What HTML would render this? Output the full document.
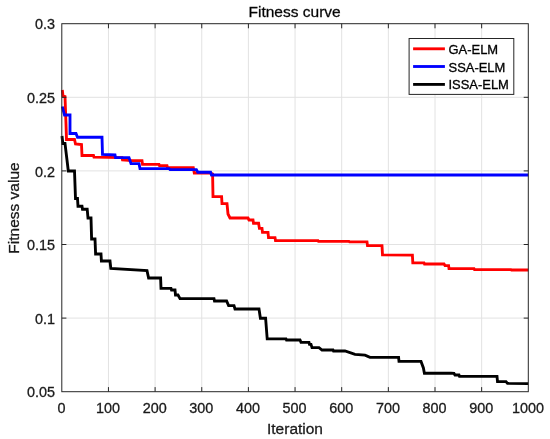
<!DOCTYPE html>
<html lang="en"><head><meta charset="utf-8"><title>Fitness curve</title>
<style>
html,body{margin:0;padding:0;background:#fff;}
body{width:550px;height:439px;overflow:hidden;}
svg{display:block;}
text{font-family:"Liberation Sans",Arial,Helvetica,sans-serif;fill:#1a1a1a;stroke:#1a1a1a;stroke-width:0.3px;}
.tk{font-size:14.4px;}
.lb{font-size:15.5px;}
.lg{font-size:12.95px;fill:#000;stroke:#000;}
</style></head><body>
<svg width="550" height="439" viewBox="0 0 550 439">
<rect x="0" y="0" width="550" height="439" fill="#ffffff"/>
<g stroke="#e2e2e2" stroke-width="1" fill="none"><line x1="108.45" y1="23.7" x2="108.45" y2="391.7"/><line x1="155.10" y1="23.7" x2="155.10" y2="391.7"/><line x1="201.75" y1="23.7" x2="201.75" y2="391.7"/><line x1="248.40" y1="23.7" x2="248.40" y2="391.7"/><line x1="295.05" y1="23.7" x2="295.05" y2="391.7"/><line x1="341.70" y1="23.7" x2="341.70" y2="391.7"/><line x1="388.35" y1="23.7" x2="388.35" y2="391.7"/><line x1="435.00" y1="23.7" x2="435.00" y2="391.7"/><line x1="481.65" y1="23.7" x2="481.65" y2="391.7"/><line x1="61.8" y1="318.10" x2="528.3" y2="318.10"/><line x1="61.8" y1="244.50" x2="528.3" y2="244.50"/><line x1="61.8" y1="170.90" x2="528.3" y2="170.90"/><line x1="61.8" y1="97.30" x2="528.3" y2="97.30"/></g>
<g fill="none" stroke-width="2.85" stroke-linejoin="miter" stroke-linecap="butt">
<polyline stroke="#ff0000" points="62.3,90.0 63.0,96.0 65.0,96.5 66.0,124.0 66.5,139.5 74.5,139.5 75.5,144.0 81.5,144.5 82.0,155.5 93.5,155.5 94.0,157.2 122.0,157.6 122.5,160.0 132.0,160.6 142.0,160.6 142.5,164.4 159.0,164.4 159.5,165.6 167.0,165.6 167.5,167.6 193.3,167.6 194.3,173.0 210.0,173.0 212.6,174.0 213.0,196.6 221.6,196.6 222.0,203.6 227.0,203.6 228.0,214.0 230.0,218.0 248.0,218.0 249.0,220.0 253.0,220.0 253.5,223.2 258.6,223.2 259.4,228.4 262.0,228.4 262.5,232.4 268.0,232.4 268.5,237.6 275.0,237.6 275.5,240.6 318.0,240.6 318.5,241.4 349.0,241.4 349.5,241.8 367.0,241.8 367.5,245.6 382.0,245.6 382.5,254.8 412.4,255.2 412.8,262.8 424.0,262.8 424.5,264.0 444.0,264.0 445.0,265.6 448.6,265.6 449.0,268.6 474.0,268.6 474.5,269.6 511.0,269.6 511.5,270.0 528.3,270.0"/>
<polyline stroke="#0000ff" points="62.3,106.5 64.5,115.0 70.0,115.0 70.0,133.5 76.0,133.5 77.5,137.2 102.0,137.2 102.5,154.5 115.0,155.0 115.5,157.6 129.0,157.6 131.0,163.6 139.0,163.6 140.0,168.6 169.0,168.6 170.0,169.6 196.4,169.6 197.8,172.2 210.6,172.2 211.5,175.0 528.3,175.0"/>
<polyline stroke="#000000" points="62.0,136.0 62.8,143.5 65.0,143.5 67.0,160.0 68.3,171.0 74.5,171.0 75.5,198.5 77.5,198.5 78.0,206.2 82.0,206.2 82.5,209.2 87.2,209.2 88.0,218.0 91.0,218.0 91.6,239.0 95.0,239.0 95.6,254.0 101.0,254.0 101.4,261.0 110.0,261.0 110.8,268.4 147.0,270.6 148.6,278.0 160.6,278.0 161.0,288.4 171.0,288.4 171.5,290.0 175.0,290.0 175.5,295.0 178.0,295.0 180.0,298.6 214.0,298.6 214.5,301.0 226.6,301.0 228.6,305.6 234.0,305.6 235.0,309.0 259.0,309.0 260.4,318.2 265.6,318.2 267.2,338.8 286.0,338.8 286.5,340.0 300.0,340.0 301.0,342.4 309.0,342.4 309.5,344.4 311.0,344.4 312.0,347.6 319.0,347.6 322.0,350.0 333.0,350.0 333.5,351.0 345.0,351.0 355.0,354.4 365.0,355.2 370.0,357.4 398.6,357.4 399.0,361.4 421.0,361.4 423.4,368.0 424.4,373.2 451.0,373.2 454.0,373.4 455.0,375.0 459.0,375.0 459.5,376.4 497.0,376.4 497.5,381.6 506.0,381.6 507.5,383.4 528.3,383.6"/>
</g>
<g stroke="#262626" stroke-width="1" fill="none"><line x1="108.45" y1="391.7" x2="108.45" y2="387.09999999999997"/><line x1="108.45" y1="23.7" x2="108.45" y2="28.299999999999997"/><line x1="155.10" y1="391.7" x2="155.10" y2="387.09999999999997"/><line x1="155.10" y1="23.7" x2="155.10" y2="28.299999999999997"/><line x1="201.75" y1="391.7" x2="201.75" y2="387.09999999999997"/><line x1="201.75" y1="23.7" x2="201.75" y2="28.299999999999997"/><line x1="248.40" y1="391.7" x2="248.40" y2="387.09999999999997"/><line x1="248.40" y1="23.7" x2="248.40" y2="28.299999999999997"/><line x1="295.05" y1="391.7" x2="295.05" y2="387.09999999999997"/><line x1="295.05" y1="23.7" x2="295.05" y2="28.299999999999997"/><line x1="341.70" y1="391.7" x2="341.70" y2="387.09999999999997"/><line x1="341.70" y1="23.7" x2="341.70" y2="28.299999999999997"/><line x1="388.35" y1="391.7" x2="388.35" y2="387.09999999999997"/><line x1="388.35" y1="23.7" x2="388.35" y2="28.299999999999997"/><line x1="435.00" y1="391.7" x2="435.00" y2="387.09999999999997"/><line x1="435.00" y1="23.7" x2="435.00" y2="28.299999999999997"/><line x1="481.65" y1="391.7" x2="481.65" y2="387.09999999999997"/><line x1="481.65" y1="23.7" x2="481.65" y2="28.299999999999997"/><line x1="61.8" y1="318.10" x2="66.39999999999999" y2="318.10"/><line x1="528.3" y1="318.10" x2="523.6999999999999" y2="318.10"/><line x1="61.8" y1="244.50" x2="66.39999999999999" y2="244.50"/><line x1="528.3" y1="244.50" x2="523.6999999999999" y2="244.50"/><line x1="61.8" y1="170.90" x2="66.39999999999999" y2="170.90"/><line x1="528.3" y1="170.90" x2="523.6999999999999" y2="170.90"/><line x1="61.8" y1="97.30" x2="66.39999999999999" y2="97.30"/><line x1="528.3" y1="97.30" x2="523.6999999999999" y2="97.30"/><rect x="61.8" y="23.7" width="466.5" height="368.0"/></g>
<text class="tk" x="61.4" y="412.5" text-anchor="middle">0</text><text class="tk" x="108.0" y="412.5" text-anchor="middle">100</text><text class="tk" x="154.7" y="412.5" text-anchor="middle">200</text><text class="tk" x="201.3" y="412.5" text-anchor="middle">300</text><text class="tk" x="248.0" y="412.5" text-anchor="middle">400</text><text class="tk" x="294.6" y="412.5" text-anchor="middle">500</text><text class="tk" x="341.3" y="412.5" text-anchor="middle">600</text><text class="tk" x="387.9" y="412.5" text-anchor="middle">700</text><text class="tk" x="434.6" y="412.5" text-anchor="middle">800</text><text class="tk" x="481.2" y="412.5" text-anchor="middle">900</text><text class="tk" x="527.9" y="412.5" text-anchor="middle">1000</text>
<text class="tk" x="54.9" y="397.4" text-anchor="end">0.05</text><text class="tk" x="54.9" y="323.8" text-anchor="end">0.1</text><text class="tk" x="54.9" y="250.2" text-anchor="end">0.15</text><text class="tk" x="54.9" y="176.6" text-anchor="end">0.2</text><text class="tk" x="54.9" y="103.0" text-anchor="end">0.25</text><text class="tk" x="54.9" y="29.4" text-anchor="end">0.3</text>
<text class="lb" x="294.6" y="17.0" text-anchor="middle" style="fill:#000">Fitness curve</text>
<text class="lb" x="295.0" y="433.5" text-anchor="middle">Iteration</text>
<text class="lb" transform="translate(19.4,208.0) rotate(-90)" text-anchor="middle">Fitness value</text>
<rect x="409.1" y="38.5" width="104.7" height="55.9" fill="#ffffff" stroke="#262626" stroke-width="1"/>
<g stroke-width="2.85" fill="none"><line x1="413.1" y1="48.8" x2="444.9" y2="48.8" stroke="#ff0000"/><line x1="413.1" y1="66.5" x2="444.9" y2="66.5" stroke="#0000ff"/><line x1="413.1" y1="84.4" x2="444.9" y2="84.4" stroke="#000000"/></g>
<text class="lg" x="448.5" y="53.9">GA-ELM</text><text class="lg" x="448.5" y="71.5">SSA-ELM</text><text class="lg" x="448.5" y="88.9">ISSA-ELM</text>
</svg>
</body></html>
